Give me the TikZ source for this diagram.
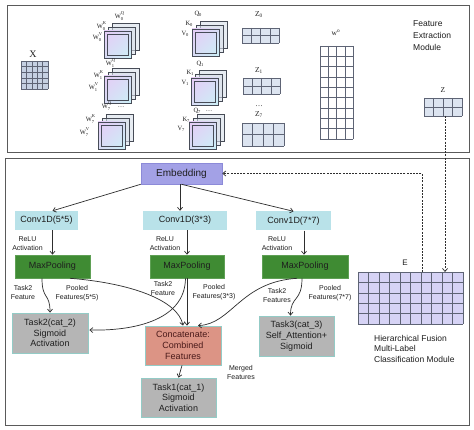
\documentclass[tikz,border=0pt]{standalone}
\usepackage{fontspec}
\setmainfont{Liberation Sans}
\newfontfamily\serifF{Liberation Serif}
\usetikzlibrary{arrows.meta,calc,shadings}
\definecolor{frameC}{HTML}{5A5A5A}
\definecolor{txtC}{HTML}{1E1E1E}
\definecolor{arrC}{HTML}{2E2E2E}
\definecolor{embC}{HTML}{A3A1E6}
\definecolor{embD}{HTML}{8C8AD8}
\definecolor{convC}{HTML}{B9E2E9}
\definecolor{poolC}{HTML}{3F8B33}
\definecolor{poolD}{HTML}{5FA055}
\definecolor{taskC}{HTML}{B5B5B5}
\definecolor{taskD}{HTML}{93CBC6}
\definecolor{catC}{HTML}{DC9485}
\definecolor{catT}{HTML}{4A1A1A}
\definecolor{gridL}{HTML}{5E6475}
\definecolor{gridF}{HTML}{DCE4F0}
\definecolor{gridX}{HTML}{C5D0E2}
\definecolor{gridE}{HTML}{D6D3F5}
\definecolor{gridW}{HTML}{C9C8EE}
\definecolor{stF}{HTML}{D8E0EA}
\definecolor{stD}{HTML}{474C57}
\definecolor{lavC}{HTML}{E6CCF6}
\definecolor{cyaC}{HTML}{CCF0F7}
\definecolor{midC}{HTML}{D8DCF5}
\newcommand\wl[3]{#1\rlap{\raisebox{4.2pt}{\fontsize{4.5}{5}\selectfont #3}}\raisebox{-1.6pt}{\fontsize{4.5}{5}\selectfont #2}}
\newcommand\mkgrid[7]{%
  \fill[#7] (#1,#2) rectangle (#3,#4);
  \foreach \i in {0,...,#5} {\draw[gridline] ({#1+(#3-#1)*\i/#5},#2) -- ({#1+(#3-#1)*\i/#5},#4);}
  \foreach \j in {0,...,#6} {\draw[gridline] (#1,{#2+(#4-#2)*\j/#6}) -- (#3,{#2+(#4-#2)*\j/#6});}
}
\newcommand\qstack[2]{%
  \foreach \k in {2,1} {\filldraw[stackframe] ({#1+4*\k},{#2-4*\k}) rectangle ++(27,-27);}
  \shade[upper left=lavC, lower right=cyaC, upper right=midC, lower left=midC] (#1,#2) rectangle ++(27,-27);
  \draw[stD, line width=0.6pt] (#1,#2) rectangle ++(27,-27);
  \draw[stD, line width=0.5pt] ({#1+3},{#2-3}) rectangle ++(21,-21);
}
\tikzset{
  modbox/.style={draw=frameC, line width=0.9pt},
  gridline/.style={draw=gridL, line width=0.5pt},
  stackframe/.style={draw=stD, line width=0.6pt, fill=stF, fill opacity=0.6},
  box/.style={inner sep=0pt, align=center, font=\fontsize{9}{10.7}\selectfont, text=txtC},
  convbox/.style={box, fill=convC, minimum height=19pt},
  poolbox/.style={box, fill=poolC, draw=poolD, line width=0.6pt, minimum height=23pt},
  taskbox/.style={box, fill=taskC, draw=taskD, line width=0.8pt, minimum height=40pt},
  lbl/.style={inner sep=0pt, align=center, font=\fontsize{7}{9}\selectfont, text=txtC},
  modlbl/.style={inner sep=0pt, align=left, anchor=north west, text=txtC},
  sl/.style={inner sep=0pt, font=\serifF\fontsize{6.5}{7}\selectfont, text=txtC},
  zl/.style={inner sep=0pt, font=\serifF\fontsize{7.5}{8}\selectfont, text=txtC},
  arr/.style={draw=arrC, line width=0.7pt, -{Straight Barb[length=3pt,width=5pt]}},
  dasharr/.style={arr, dash pattern=on 2pt off 1.2pt},
}
\begin{document}
\begin{tikzpicture}[x=1pt,y=-1pt]
\useasboundingbox (0,0) rectangle (474,430);
\fill[white] (0,0) rectangle (474,430);
% ---------- module frames
\draw[modbox] (7,5) rectangle (469,152);
\draw[modbox] (5,158) rectangle (469,425);

% ---------- feature extraction module
\node[inner sep=0pt, font=\serifF\fontsize{10}{11}\selectfont, text=txtC] (lx) at (33,54) {X};
\mkgrid{21}{61}{48}{89}{5}{5}{gridX}

\qstack{104}{58}
\qstack{104}{103}
\qstack{98}{149}
\qstack{192}{56}
\qstack{191}{105}
\qstack{189}{149}

\node[sl] (w0q) at (119,16) {\wl{W}{0}{Q}};
\node[sl] (w0k) at (101,26) {\wl{W}{0}{K}};
\node[sl] (w0v) at (97,37) {\wl{W}{0}{V}};
\node[sl] (w1q) at (110,63) {\wl{W}{1}{Q}};
\node[sl] (w1k) at (98,75) {\wl{W}{1}{K}};
\node[sl] (w1v) at (93,87) {\wl{W}{1}{V}};
\node[sl] (w7q) at (106,106) {\wl{W}{7}{Q}};
\node[sl] (w7d) at (121,107) {\dots};
\node[sl] (w7k) at (90,119) {\wl{W}{7}{K}};
\node[sl] (w7v) at (84,132) {\wl{W}{7}{V}};

\node[sl] (q0) at (198,14) {\wl{Q}{0}{}};
\node[sl] (k0) at (189,24) {\wl{K}{0}{}};
\node[sl] (v0) at (185,34) {\wl{V}{0}{}};
\node[sl] (q1) at (200,64) {\wl{Q}{1}{}};
\node[sl] (k1) at (190,73) {\wl{K}{1}{}};
\node[sl] (v1) at (185,83) {\wl{V}{1}{}};
\node[sl] (q7) at (197,111) {\wl{Q}{7}{}};
\node[sl] (q7d) at (209,111) {\dots};
\node[sl] (k7) at (186,120) {\wl{K}{7}{}};
\node[sl] (v7) at (181,129) {\wl{V}{7}{}};

\node[zl] (z0) at (259,15) {Z\textsubscript{0}};
\mkgrid{242}{28}{279}{43}{4}{2}{gridF}
\node[zl] (z1) at (259,71) {Z\textsubscript{1}};
\mkgrid{243}{78}{280}{94}{4}{2}{gridF}
\node[zl] (z7d) at (259,106) {\dots};
\node[zl] (z7) at (259,115) {Z\textsubscript{7}};
\mkgrid{242}{123}{284}{146}{4}{2}{gridF}

\node[zl] (wo) at (336,33) {w\textsuperscript{o}};
\fill[gridF] (320,46) rectangle (353,139);
\fill[gridW] (320,{46+4*93/9}) rectangle (353,{46+5*93/9});
\mkgrid{320}{46}{353}{139}{4}{9}{gridF!0}
\node[modlbl, font=\fontsize{8.5}{12}\selectfont] (fem) at (413,20) {Feature\\Extraction\\Module};

\node[zl] (lz) at (443,90) {Z};
\mkgrid{424}{98}{462}{116}{4}{2}{gridF}
\coordinate (zb) at (445,116);

% ---------- classification module
\mkgrid{358}{272}{463}{324}{10}{5}{gridE}
\node[inner sep=0pt, font=\fontsize{8}{9}\selectfont, text=txtC] (le) at (405,263) {E};
\coordinate (et) at (445,272);
\coordinate (es) at (422,272);
\node[modlbl, font=\fontsize{8.5}{10.5}\selectfont] (hfm) at (374,335) {Hierarchical Fusion\\Multi-Label\\Classification Module};

\node[box, fill=embC, draw=embD, line width=0.6pt, minimum width=81pt, minimum height=21pt, font=\fontsize{10}{12}\selectfont] (emb) at (181.5,173.5) {Embedding};

\node[convbox, minimum width=63pt] (c5) at (46.5,220.5) {Conv1D(5*5)};
\node[convbox, minimum width=84pt] (c3) at (185,220.5) {Conv1D(3*3)};
\node[convbox, minimum width=75pt] (c7) at (293.5,221) {Conv1D(7*7)};

\node[poolbox, minimum width=75pt] (mp5) at (52.5,266.5) {MaxPooling};
\node[poolbox, minimum width=74pt] (mp3) at (187,266.5) {MaxPooling};
\node[poolbox, minimum width=86pt] (mp7) at (305,266.5) {MaxPooling};

\node[taskbox, minimum width=76pt] (t2) at (50,333) {Task2(cat\_2)\\Sigmoid\\Activation};
\node[box, fill=catC, draw=taskD, line width=0.8pt, minimum width=76pt, minimum height=39pt, text=catT] (cat) at (183,345.5) {Concatenate:\\Combined\\Features};
\node[taskbox, minimum width=75pt, minimum height=39pt] (t1) at (178.5,397.5) {Task1(cat\_1)\\Sigmoid\\Activation};
\node[taskbox, minimum width=75pt] (t3) at (296.5,336) {Task3(cat\_3)\\Self\_Attention+\\Sigmoid};

% labels
\node[lbl] (r5) at (27.5,243.5) {ReLU\\Activation};
\node[lbl] (r3) at (165,243.5) {ReLU\\Activation};
\node[lbl] (r7) at (277,243.5) {ReLU\\Activation};
\node[lbl] (l5a) at (23,292.5) {Task2\\Feature};
\node[lbl] (l5b) at (77,293) {Pooled\\Features(5*5)};
\node[lbl] (l3a) at (163,288) {Task2\\Feature};
\node[lbl] (l3b) at (214,292.5) {Pooled\\Features(3*3)};
\node[lbl] (l7a) at (277,295) {Task2\\Features};
\node[lbl] (l7b) at (330,293.5) {Pooled\\Features(7*7)};
\node[lbl] (lm) at (241,372) {Merged\\Features};

% arrows: embedding to convs
\draw[arr] (emb.south west) -- (mp5.north |- c5.north);
\draw[arr] (emb.south) ++(-1.5,0) coordinate (es3) -- (es3 |- c3.north);
\draw[arr] (emb.south) -- (c7.north);
% conv to pool
\draw[arr] (mp5.north |- c5.south) -- (mp5.north);
\draw[arr] (mp3.north |- c3.south) -- (mp3.north);
\draw[arr] ($(mp7.north |- c7.south)+(-1,0)$) -- ($(mp7.north)+(-1,0)$);
% pool to tasks
\draw[arr] ($(mp5.south)+(-10.5,0)$) .. controls ($(mp5.south)+(-10.5,22)$) and ($(t2.north)+(0,-20)$) .. (t2.north);
\draw[arr] ($(mp5.south)+(17.5,0)$) .. controls (130,283) and (178,300) .. (cat.north);
\draw[arr] (mp3.south) -- (mp3.south |- cat.north);
\draw[arr] ($(mp3.south)+(-1.5,0)$) .. controls (185,322) and (130,331) .. ($(t2.east)+(1,-3)$);
\draw[arr] ($(mp7.south)+(-8,0)$) .. controls (240,282) and (232,324) .. ($(cat.north)+(15,0)$);
\draw[arr] ($(mp7.south)+(-3,0)$) .. controls ($(mp7.south)+(-3,24)$) and ($(t3.north)+(-6,-20)$) .. ($(t3.north)+(-6,0)$);
\draw[arr] ($(cat.south)+(-1,0)$) -- ($(t1.north)+(0,0)$);
% dashed connections
\draw[dasharr] (zb) -- (et);
\draw[dasharr] (es) -- (es |- emb.east) -- (emb.east);
\end{tikzpicture}
\end{document}
